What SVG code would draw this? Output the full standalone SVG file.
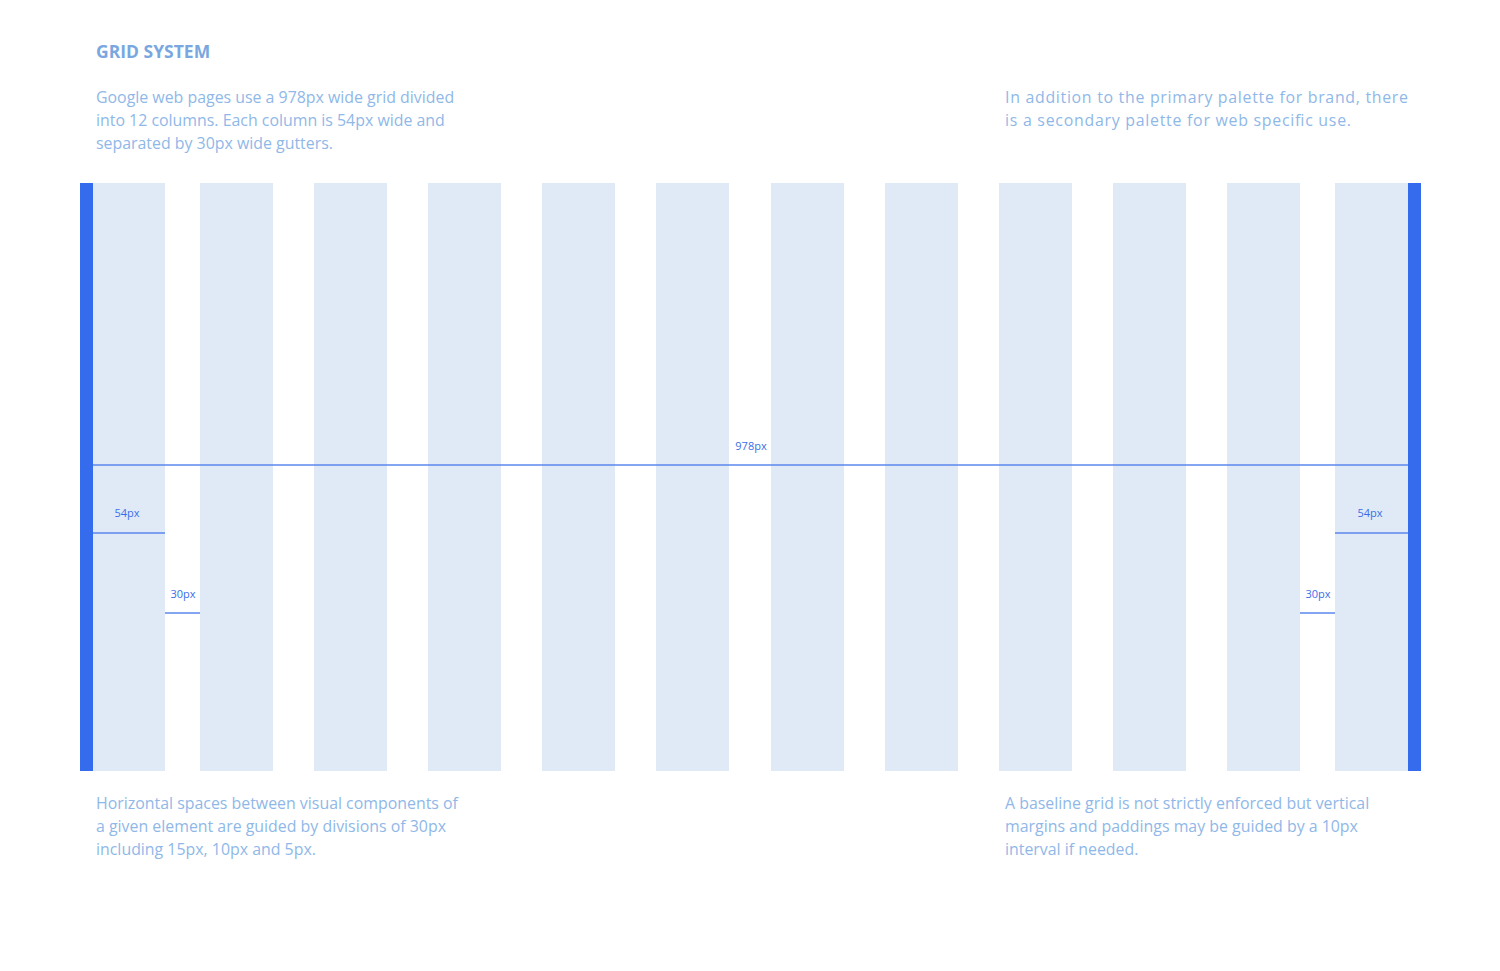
<svg xmlns="http://www.w3.org/2000/svg" width="1500" height="971" viewBox="0 0 1500 971">
<style>
.t{font-family:"Open Sans","Liberation Sans",sans-serif;fill:#8fb8e8;font-size:15.9px}
.h{font-family:"Open Sans","Liberation Sans",sans-serif;fill:#7aa7e0;font-size:17.5px;font-weight:bold}
.c{fill:#dfeaf6}
.b{fill:#346ced}
.l{stroke:#5b87ec;stroke-width:1.3}
.m{font-family:"Open Sans","Liberation Sans",sans-serif;fill:#3a6ee8;font-size:11px;text-anchor:middle}
</style>
<rect width="1500" height="971" fill="#fff"/>
<text class="h" x="96" y="58">GRID SYSTEM</text>
<text class="t" x="96" y="103">Google web pages use a 978px wide grid divided</text>
<text class="t" x="96" y="126">into 12 columns. Each column is 54px wide and</text>
<text class="t" x="96" y="149">separated by 30px wide gutters.</text>
<text class="t" x="1005" y="103" font-size="17.5" textLength="403" lengthAdjust="spacing">In addition to the primary palette for brand, there</text>
<text class="t" x="1005" y="126" font-size="17.5" textLength="346" lengthAdjust="spacing">is a secondary palette for web specific use.</text>
<g id="columns">
<rect class="c" x="93" y="183" width="72" height="588"/>
<rect class="c" x="200" y="183" width="73" height="588"/>
<rect class="c" x="314" y="183" width="73" height="588"/>
<rect class="c" x="428" y="183" width="73" height="588"/>
<rect class="c" x="542" y="183" width="73" height="588"/>
<rect class="c" x="656" y="183" width="73" height="588"/>
<rect class="c" x="771" y="183" width="73" height="588"/>
<rect class="c" x="885" y="183" width="73" height="588"/>
<rect class="c" x="999" y="183" width="73" height="588"/>
<rect class="c" x="1113" y="183" width="73" height="588"/>
<rect class="c" x="1227" y="183" width="73" height="588"/>
<rect class="c" x="1335" y="183" width="73" height="588"/>
</g>
<g id="margins">
<rect class="b" x="80" y="183" width="13" height="588"/>
<rect class="b" x="1408" y="183" width="13" height="588"/>
</g>
<g id="connectors">
<line class="l" x1="93" y1="465" x2="1408" y2="465"/>
<line class="l" x1="93" y1="533" x2="165" y2="533"/>
<line class="l" x1="165" y1="613" x2="200" y2="613"/>
<line class="l" x1="1335" y1="533" x2="1408" y2="533"/>
<line class="l" x1="1300" y1="613" x2="1335" y2="613"/>
</g>
<text class="m" x="751" y="450">978px</text>
<text class="m" x="127" y="517">54px</text>
<text class="m" x="183" y="598">30px</text>
<text class="m" x="1370" y="517">54px</text>
<text class="m" x="1318" y="598">30px</text>
<text class="t" x="96" y="809">Horizontal spaces between visual components of</text>
<text class="t" x="96" y="832">a given element are guided by divisions of 30px</text>
<text class="t" x="96" y="855">including 15px, 10px and 5px.</text>
<text class="t" x="1005" y="809">A baseline grid is not strictly enforced but vertical</text>
<text class="t" x="1005" y="832">margins and paddings may be guided by a 10px</text>
<text class="t" x="1005" y="855">interval if needed.</text>
</svg>
